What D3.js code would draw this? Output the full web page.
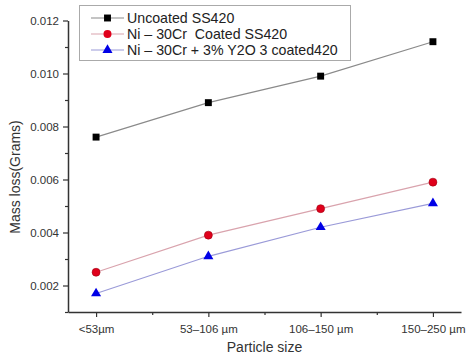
<!DOCTYPE html>
<html lang="en">
<head>
<meta charset="utf-8">
<title>Mass loss vs particle size</title>
<script src="https://d3js.org/d3.v7.min.js"></script>
<style>
  body { margin: 0; background: #fff; }
  svg { font-family: "Liberation Sans", Arial, sans-serif; }
  text { white-space: pre; }
</style>
</head>
<body>
<script>
// data
var categories = ["<53\u00b5m", "53\u2013106 \u00b5m", "106\u2013150 \u00b5m", "150\u2013250 \u00b5m"];
var uncoated = [0.0076, 0.0089, 0.0099, 0.0112];
var niCr = [0.0025, 0.0039, 0.0049, 0.0059];
var niCrY = [0.0017, 0.0031, 0.0042, 0.0051];
var yTicks = [0.002, 0.004, 0.006, 0.008, 0.010, 0.012];
var seriesNames = ["Uncoated SS420", "Ni \u2013 30Cr  Coated SS420", "Ni \u2013 30Cr + 3% Y2O 3 coated420"];

var w = 474, h = 362;
var mLeft = 68, mRight = 461, mTop = 20.5, mBottom = 312;

var svg = d3.select("body").append("svg").attr("width", w).attr("height", h);

var x = d3.scaleLinear().domain([-0.25, 3.25]).range([mLeft, mRight]);
var y = d3.scaleLinear().domain([0.001, 0.012]).range([mBottom, mTop]);

// y axis, major + minor ticks
var yMinor = [0.001, 0.003, 0.005, 0.007, 0.009, 0.011];
svg.append("g").attr("transform", "translate(" + mLeft + ",0)")
  .call(d3.axisLeft(y).tickValues(yMinor).tickSize(3).tickFormat(""))
  .call(function(g) { g.select(".domain").remove(); });
var gy = svg.append("g").attr("transform", "translate(" + mLeft + ",0)")
  .call(d3.axisLeft(y).tickValues(yTicks).tickSize(5).tickSizeOuter(0).tickPadding(4).tickFormat(d3.format(".3f")));
gy.selectAll("text").attr("font-size", 11.5).attr("fill", "#333");

// x axis
svg.append("g").attr("transform", "translate(0," + mBottom + ")")
  .call(d3.axisBottom(x).tickValues([0.5, 1.5, 2.5]).tickSize(3).tickFormat(""))
  .call(function(g) { g.select(".domain").remove(); });
var gx = svg.append("g").attr("transform", "translate(0," + mBottom + ")")
  .call(d3.axisBottom(x).tickValues([0, 1, 2, 3]).tickSize(5).tickSizeOuter(0).tickPadding(8)
    .tickFormat(function(d) { return categories[d]; }));
gx.selectAll("text").attr("font-size", 11.5).attr("fill", "#333");

svg.selectAll(".domain").attr("stroke", "#333").attr("stroke-width", 1.5);
svg.selectAll(".tick line").attr("stroke", "#333").attr("stroke-width", 1.2);

// axis titles
svg.append("text").attr("x", (mLeft + mRight) / 2).attr("y", 352).attr("text-anchor", "middle")
  .attr("font-size", 14).attr("fill", "#333").text("Particle size");
svg.append("text").attr("transform", "translate(20," + 177 + ") rotate(-90)").attr("text-anchor", "middle")
  .attr("font-size", 14).attr("fill", "#333").text("Mass loss(Grams)");

var series = [
  { vals: uncoated, line: "#8a8a8a", fill: "#000000", shape: d3.symbolSquare, size: 48 },
  { vals: niCr, line: "#d9a3ad", fill: "#e0001b", shape: d3.symbolCircle, size: 50 },
  { vals: niCrY, line: "#9a9ad8", fill: "#0000e6", shape: d3.symbolTriangle, size: 44 }
];

var line = d3.line().x(function(d, i) { return x(i); }).y(function(d) { return y(d); });

series.forEach(function(s) {
  svg.append("path").datum(s.vals).attr("d", line).attr("fill", "none")
    .attr("stroke", s.line).attr("stroke-width", 1.1);
  svg.selectAll(null).data(s.vals).enter().append("path")
    .attr("transform", function(d, i) { return "translate(" + x(i) + "," + y(d) + ")"; })
    .attr("d", d3.symbol().type(s.shape).size(s.size))
    .attr("fill", s.fill).attr("stroke", s.shape == d3.symbolCircle ? "#a00010" : "none").attr("stroke-width", 0.6);
});

// legend
var lg = svg.append("g");
lg.append("rect").attr("x", 79.5).attr("y", 5.5).attr("width", 271).attr("height", 55)
  .attr("fill", "#fff").attr("stroke", "#aaa").attr("stroke-width", 1);
series.forEach(function(s, i) {
  var ly = 18 + i * 16;
  lg.append("line").attr("x1", 91).attr("x2", 124).attr("y1", ly).attr("y2", ly)
    .attr("stroke", s.line).attr("stroke-width", 1.1);
  lg.append("path").attr("transform", "translate(107.5," + ly + ")")
    .attr("d", d3.symbol().type(s.shape).size(s.size)).attr("fill", s.fill);
  lg.append("text").attr("x", 127).attr("y", ly + 5).attr("font-size", 14.2).attr("fill", "#222")
    .text(seriesNames[i]);
});
</script>
</body>
</html>
